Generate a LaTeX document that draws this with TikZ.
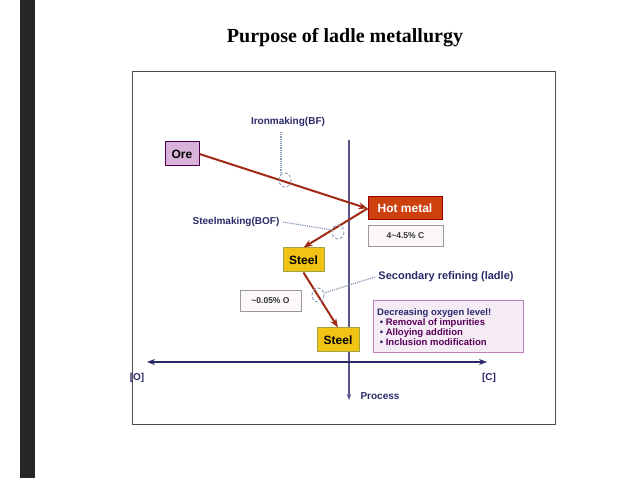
\documentclass[tikz,border=0pt]{standalone}
\usepackage{fontspec}
\setmainfont{Liberation Serif}
\newfontfamily\sff{Liberation Sans}
\usetikzlibrary{arrows.meta}
\definecolor{ink}{HTML}{2A2A6A}
\definecolor{arr}{HTML}{A02A14}
\definecolor{lead}{HTML}{8A9AB8}
\tikzset{
  lbl/.style={font=\sff\bfseries\fontsize{10}{11}\selectfont, text=ink},
  bx/.style={draw=#1!60!black, line width=1pt, inner sep=0pt, font=\sff\bfseries\fontsize{12}{13}\selectfont},
  flow/.style={arr, line width=2pt, -{Stealth[length=9pt]}},
  leader/.style={lead, densely dotted, line width=1.2pt},
  ring/.style={lead, densely dashed, line width=0.9pt}
}
\begin{document}
\begin{tikzpicture}[x=1pt,y=-1pt]
\useasboundingbox (0,0) rectangle (638,478);
\fill[white] (0,0) rectangle (638,478);
\fill[black!85] (20,0) rectangle (35,478);
\node[font=\bfseries\fontsize{20}{22}\selectfont] (title) at (345,38) {Purpose of ladle metallurgy};
\draw[black!70, line width=1pt] (132,72) rectangle (555,425);
% axes
\draw[ink!80, line width=1.2pt, -{Stealth[length=6pt]}] (349,140) -- (349,400);
\draw[ink, line width=1.2pt, {Stealth[length=8pt]}-{Stealth[length=8pt]}] (147,362) -- (487,362);
\node[lbl] (O) at (137,378) {[O]};
\node[lbl] (C) at (489,378) {[C]};
\node[lbl] (proc) at (380,396) {Process};
% boxes
\node[bx=violet, fill=violet!30, minimum width=34pt, minimum height=24pt] (ore) at (182,154) {Ore};
\node[bx=red, fill={rgb,255:red,205;green,65;blue,15}, text=white, minimum width=74pt, minimum height=23pt] (hot) at (405,208.5) {Hot metal};
\node[draw=black!40, line width=0.8pt, fill=violet!3, minimum width=75pt, minimum height=21pt, inner sep=0pt, font=\sff\bfseries\fontsize{8.5}{9}\selectfont, text=black!80] (hc) at (405.5,235.5) {4\textasciitilde4.5\% C};
\node[bx=yellow, fill={rgb,255:red,240;green,195;blue,20}, minimum width=41pt, minimum height=24pt] (st1) at (303.5,260) {Steel};
\node[draw=black!40, line width=0.8pt, fill=violet!3, minimum width=61pt, minimum height=21pt, inner sep=0pt, font=\sff\bfseries\fontsize{8.5}{9}\selectfont, text=black!80] (oc) at (270.5,300.5) {\textasciitilde0.05\% O};
\node[bx=yellow, fill={rgb,255:red,240;green,195;blue,20}, minimum width=42pt, minimum height=24pt] (st2) at (338,340) {Steel};
\node[draw=violet!50, line width=0.8pt, fill=violet!8, minimum width=150pt, minimum height=52pt, inner sep=0pt] (dec) at (448,326) {};
\node[anchor=north west, align=left, inner sep=0pt, font=\sff\bfseries\fontsize{9.5}{10}\selectfont, text=ink] (dect) at (377,308) {Decreasing oxygen level!\\
\ \textbullet\ {\color{violet!70!black}Removal of impurities}\\
\ \textbullet\ {\color{violet!70!black}Alloying addition}\\
\ \textbullet\ {\color{violet!70!black}Inclusion modification}};
% labels
\node[lbl] (bf) at (288,122) {Ironmaking(BF)};
\node[lbl] (bof) at (236,222) {Steelmaking(BOF)};
\node[lbl, font=\sff\bfseries\fontsize{11}{12}\selectfont] (sec) at (446,277) {Secondary refining (ladle)};
% flow
\draw[flow] (ore.east) -- (hot.west);
\draw[flow] (hot.west) -- (st1.north);
\draw[flow] (st1.south) -- (st2.north);
% leaders
\coordinate (r1) at (285,180);
\coordinate (r2) at (338,232);
\coordinate (r3) at (318,295);
\draw[leader] (281,132) -- (281,174);
\draw[ring] (r1) ellipse (6 and 7);
\draw[leader] (bof.east) -- (332,230);
\draw[ring] (r2) ellipse (6 and 7);
\draw[leader] (sec.west) -- (324,293);
\draw[ring] (r3) ellipse (6 and 7);
\end{tikzpicture}
\end{document}
